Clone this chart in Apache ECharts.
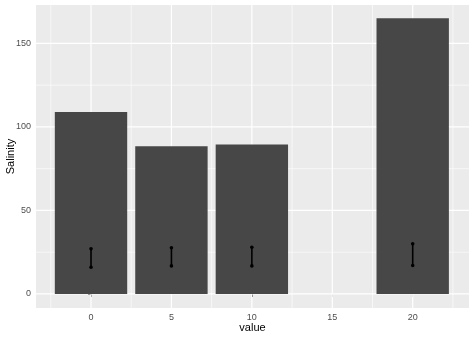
<!DOCTYPE html>
<html>
<head>
<meta charset="utf-8">
<script src="https://cdn.jsdelivr.net/npm/echarts@6/dist/echarts.min.js"></script>
<style>
  html, body { margin: 0; padding: 0; background: #fff; }
  #chart { width: 474px; height: 338px; }
</style>
</head>
<body>
<div id="chart"></div>
<script>
// data
const xValues = [0, 5, 10, 20]
const salinity = [109, 88.5, 89.5, 165]
const errLow = [16, 16.8, 16.8, 17]
const errHigh = [27, 27.7, 28, 30]

const xTicks = [0, 5, 10, 15, 20]
const xMinor = [-2.5, 2.5, 7.5, 12.5, 17.5, 22.5]
const yTicks = [0, 50, 100, 150]
const yMinor = [25, 75, 125]

const xMin = -3.42
const xMax = 23.5
const yMin = -8.4
const yMax = 173
const barWidth = 4.5

const panel = '#ebebeb'
const barFill = '#474747'
const tickColor = '#333333'
const labelColor = '#4d4d4d'
const font = '"Liberation Sans", Arial, sans-serif'

const chart = echarts.init(document.getElementById('chart'))

function vLine(width) {
  return function (params, api) {
    const cs = params.coordSys
    const p = api.coord([api.value(0), 0])
    return {
      type: 'line',
      shape: { x1: p[0], y1: cs.y, x2: p[0], y2: cs.y + cs.height },
      style: { stroke: '#ffffff', lineWidth: width },
    }
  }
}

function hLine(width) {
  return function (params, api) {
    const cs = params.coordSys
    const p = api.coord([0, api.value(1)])
    return {
      type: 'line',
      shape: { x1: cs.x, y1: p[1], x2: cs.x + cs.width, y2: p[1] },
      style: { stroke: '#ffffff', lineWidth: width },
    }
  }
}

chart.setOption({
  animation: false,
  textStyle: { fontFamily: font },
  grid: {
    left: 36,
    right: 5,
    top: 5,
    bottom: 30,
    containLabel: false,
    outerBoundsMode: 'none',
    show: true,
    backgroundColor: panel,
    borderWidth: 0,
  },
  xAxis: {
    type: 'value',
    min: xMin,
    max: xMax,
    name: 'value',
    nameLocation: 'middle',
    nameGap: 14,
    nameMoveOverlap: false,
    nameTextStyle: { color: '#000', fontSize: 11, fontFamily: font },
    axisLine: { show: false },
    splitLine: { show: false },
    axisTick: {
      show: true,
      length: 3,
      customValues: xTicks,
      lineStyle: { color: tickColor, width: 1 },
    },
    axisLabel: {
      customValues: xTicks,
      color: labelColor,
      fontSize: 9,
      margin: 5,
      fontFamily: font,
    },
  },
  yAxis: {
    type: 'value',
    min: yMin,
    max: yMax,
    name: 'Salinity',
    nameLocation: 'middle',
    nameGap: 20,
    nameMoveOverlap: false,
    nameTextStyle: { color: '#000', fontSize: 11, fontFamily: font },
    axisLine: { show: false },
    splitLine: { show: false },
    axisTick: {
      show: true,
      length: 3,
      customValues: yTicks,
      lineStyle: { color: tickColor, width: 1 },
    },
    axisLabel: {
      customValues: yTicks,
      color: labelColor,
      fontSize: 9,
      margin: 5,
      fontFamily: font,
    },
  },
  series: [
    {
      type: 'custom',
      silent: true,
      renderItem: vLine(0.6),
      data: xMinor.map((v) => [v, 0]),
      z: 1,
    },
    {
      type: 'custom',
      silent: true,
      renderItem: hLine(0.6),
      data: yMinor.map((v) => [0, v]),
      z: 1,
    },
    {
      type: 'custom',
      silent: true,
      renderItem: vLine(1.2),
      data: xTicks.map((v) => [v, 0]),
      z: 1,
    },
    {
      type: 'custom',
      silent: true,
      renderItem: hLine(1.2),
      data: yTicks.map((v) => [0, v]),
      z: 1,
    },
    {
      type: 'custom',
      name: 'Salinity',
      renderItem: function (params, api) {
        const x = api.value(0)
        const top = api.coord([x, api.value(1)])
        const base = api.coord([x, 0])
        const w = api.size([barWidth, 0])[0]
        return {
          type: 'rect',
          shape: { x: top[0] - w / 2, y: top[1], width: w, height: base[1] - top[1] },
          style: { fill: barFill },
        }
      },
      data: xValues.map((x, i) => [x, salinity[i]]),
      z: 2,
    },
    {
      type: 'custom',
      name: 'error',
      renderItem: function (params, api) {
        const x = api.value(0)
        const lo = api.coord([x, api.value(1)])
        const hi = api.coord([x, api.value(2)])
        return {
          type: 'group',
          children: [
            {
              type: 'line',
              shape: { x1: lo[0], y1: lo[1], x2: hi[0], y2: hi[1] },
              style: { stroke: '#000', lineWidth: 1.6 },
            },
            {
              type: 'circle',
              shape: { cx: lo[0], cy: lo[1], r: 1.8 },
              style: { fill: '#000' },
            },
            {
              type: 'circle',
              shape: { cx: hi[0], cy: hi[1], r: 1.8 },
              style: { fill: '#000' },
            },
          ],
        }
      },
      encode: { x: 0, y: [1, 2] },
      data: xValues.map((x, i) => [x, errLow[i], errHigh[i]]),
      z: 3,
    },
  ],
})
</script>
</body>
</html>
